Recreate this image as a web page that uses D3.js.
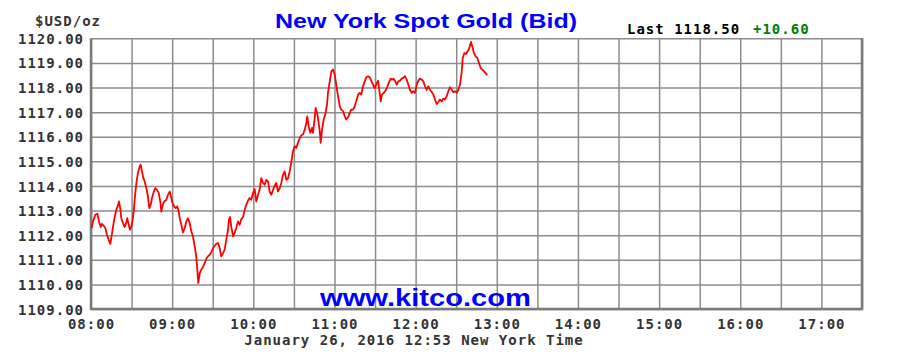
<!DOCTYPE html>
<html>
<head>
<meta charset="utf-8">
<script src="https://cdn.jsdelivr.net/npm/d3@7"></script>
<style>
    body { margin: 0; background: #fff; }
    .mono { font-family: "DejaVu Sans Mono", monospace; font-weight: bold; font-size: 14px; letter-spacing: 1px; }
    .banner { font-family: "Liberation Sans", Arial, sans-serif; font-weight: bold; fill: #0000ff; }
</style>
</head>
<body>
<div id="chart-area"></div>
<script>
var minutes = [
    0.5, 1.5, 3.2, 4.7, 5.9, 7.2, 8.1, 9.4, 10.6, 11.8, 13.1, 14.3, 15.0, 16.3, 17.5, 18.7, 20.0, 20.7, 21.7, 22.4,
    23.7, 24.9, 26.1, 26.8, 27.9, 28.8, 29.8, 30.8, 31.6, 32.3, 33.0, 33.8, 34.7, 36.0, 36.7, 37.7, 38.7, 39.7, 40.9, 42.1,
    43.1, 44.1, 45.1, 46.4, 47.5, 48.8, 50.0, 51.2, 52.0, 53.0, 54.2, 55.7, 56.9, 58.2, 58.9, 59.9, 61.4, 62.6, 63.8, 64.8,
    65.8, 66.8, 68.0, 69.3, 70.5, 71.7, 73.0, 74.2, 75.4, 76.7, 77.8, 78.6, 79.3, 80.4, 81.5, 82.8, 84.1, 85.2, 86.5, 87.8,
    88.9, 90.2, 91.5, 92.6, 93.9, 95.1, 96.3, 97.6, 98.8, 100.0, 101.3, 102.0, 102.8, 103.7, 105.0, 106.2, 107.4, 108.7, 109.9, 111.1,
    112.4, 113.6, 114.8, 116.1, 117.3, 118.5, 119.8, 121.0, 122.2, 123.5, 124.7, 125.9, 127.2, 128.4, 129.6, 130.9, 132.1, 133.3, 134.6, 135.8,
    137.0, 138.2, 139.5, 140.7, 141.9, 143.2, 144.4, 145.6, 146.9, 148.1, 149.3, 150.6, 151.8, 153.0, 154.3, 155.5, 156.7, 158.0, 159.2, 159.9,
    160.9, 162.1, 163.4, 164.1, 165.4, 166.1, 167.1, 167.8, 169.1, 169.8, 170.8, 172.0, 173.2, 174.5, 175.2, 176.5, 177.7, 178.9, 180.2, 181.3,
    182.6, 183.9, 185.0, 186.3, 187.6, 188.7, 190.0, 191.3, 192.4, 193.7, 195.0, 196.1, 197.4, 198.6, 199.8, 201.1, 202.4, 203.5, 204.8, 206.0,
    207.2, 208.5, 209.7, 210.9, 212.2, 213.4, 214.2, 215.1, 216.4, 217.6, 218.8, 220.1, 221.6, 222.3, 223.5, 224.7, 226.0, 227.2, 228.4, 229.7,
    230.9, 232.1, 233.4, 234.6, 235.8, 237.1, 238.3, 239.5, 240.8, 242.0, 243.2, 244.5, 245.7, 246.9, 248.2, 249.4, 250.6, 251.9, 253.1, 254.3,
    255.6, 256.8, 258.0, 259.3, 260.5, 261.7, 263.0, 264.2, 265.4, 266.7, 267.9, 269.1, 270.4, 271.6, 272.8, 274.1, 274.8, 276.0, 277.2, 278.5,
    279.7, 280.9, 281.9, 283.1, 284.4, 285.6, 286.8, 288.1, 289.3, 290.5, 291.8, 293.0
];

// Bid price in $USD/oz...
var prices = [
    1112.29, 1112.56, 1112.83, 1112.87, 1112.56, 1112.33, 1112.46, 1112.38, 1112.29, 1112.02, 1111.81, 1111.65, 1111.88, 1112.35, 1112.74, 1113.03, 1113.23, 1113.37, 1113.06, 1112.69,
    1112.49, 1112.33, 1112.52, 1112.69, 1112.42, 1112.22, 1112.35, 1112.63, 1112.96, 1113.44, 1113.84, 1114.22, 1114.52, 1114.79, 1114.86, 1114.59, 1114.32, 1114.18, 1113.91, 1113.57,
    1113.10, 1113.23, 1113.51, 1113.77, 1113.91, 1113.84, 1113.73, 1113.37, 1112.96, 1113.23, 1113.37, 1113.44, 1113.64, 1113.77, 1113.64, 1113.37, 1113.17, 1113.10, 1113.17, 1112.96,
    1112.63, 1112.42, 1112.11, 1112.29, 1112.56, 1112.69, 1112.49, 1112.15, 1111.95, 1111.54, 1111.14, 1110.60, 1110.06, 1110.46, 1110.60, 1110.71, 1110.87, 1111.03, 1111.14, 1111.21,
    1111.30, 1111.48, 1111.57, 1111.65, 1111.68, 1111.48, 1111.14, 1111.27, 1111.41, 1111.81, 1112.22, 1112.63, 1112.74, 1112.35, 1111.95, 1112.09, 1112.29, 1112.56, 1112.42, 1112.65,
    1112.74, 1113.03, 1113.23, 1113.41, 1113.51, 1113.44, 1113.71, 1113.87, 1113.37, 1113.64, 1113.87, 1114.32, 1114.12, 1114.05, 1114.25, 1114.18, 1113.77, 1113.64, 1113.84, 1114.01,
    1114.12, 1113.77, 1113.91, 1114.12, 1114.45, 1114.59, 1114.25, 1114.30, 1114.59, 1114.97, 1115.40, 1115.62, 1115.55, 1115.75, 1115.95, 1116.06, 1116.09, 1116.29, 1116.56, 1116.83,
    1116.43, 1116.16, 1116.36, 1116.16, 1116.77, 1117.17, 1116.97, 1116.77, 1116.23, 1115.75, 1116.29, 1116.70, 1116.90, 1117.31, 1117.78, 1118.25, 1118.66, 1118.73, 1118.52, 1118.12,
    1117.65, 1117.24, 1117.10, 1117.04, 1116.83, 1116.70, 1116.79, 1116.97, 1117.10, 1117.10, 1117.24, 1117.44, 1117.71, 1117.78, 1117.71, 1118.05, 1118.25, 1118.42, 1118.46, 1118.42,
    1118.28, 1118.12, 1117.98, 1118.12, 1118.28, 1117.78, 1117.44, 1117.71, 1117.78, 1117.87, 1117.98, 1118.19, 1118.36, 1118.32, 1118.36, 1118.28, 1118.12, 1118.25, 1118.28, 1118.36,
    1118.39, 1118.46, 1118.32, 1118.12, 1117.91, 1117.78, 1117.85, 1117.78, 1118.12, 1118.28, 1118.36, 1118.32, 1118.25, 1118.05, 1117.91, 1118.05, 1117.91, 1117.82, 1117.71, 1117.51,
    1117.33, 1117.41, 1117.51, 1117.44, 1117.55, 1117.51, 1117.65, 1117.85, 1118.01, 1117.91, 1117.81, 1117.85, 1117.78, 1117.91, 1118.12, 1118.66, 1119.20, 1119.40, 1119.36, 1119.47,
    1119.61, 1119.85, 1119.68, 1119.40, 1119.27, 1119.20, 1119.00, 1118.79, 1118.73, 1118.66, 1118.59, 1118.50
];

var yTicks = [1109, 1110, 1111, 1112, 1113, 1114, 1115, 1116, 1117, 1118, 1119, 1120];
var hourLabels = ["08:00", "09:00", "10:00", "11:00", "12:00", "13:00", "14:00", "15:00", "16:00", "17:00"];

var titleText = "New York Spot Gold (Bid)";
var unitText = "$USD/oz";
var lastText = "Last 1118.50";
var changeText = "+10.60";
var stampText = "January 26, 2016 12:53 New York Time";
var siteText = "www.kitco.com";

var width = 900, height = 356;
var margin = {left: 91, right: 38, top: 38.3, bottom: 47};

var svg = d3.select("#chart-area").append("svg")
    .attr("width", width)
    .attr("height", height);

var parseHM = d3.timeParse("%H:%M");
var start = parseHM("08:00");
var end = parseHM("17:30");
function toDate(m) { return new Date(start.getTime() + m * 60000); }

var x = d3.scaleTime()
    .domain([start, end])
    .range([margin.left, width - margin.right]);

var y = d3.scaleLinear()
    .domain([1109, 1120])
    .range([height - margin.bottom, margin.top]);

var gridColor = "#8c8c8c";

// vertical grid every half hour...
var xGrid = svg.append("g")
    .attr("transform", "translate(0," + y(1109) + ")")
    .call(d3.axisBottom(x)
        .ticks(d3.timeMinute.every(30))
        .tickSize(-(y(1109) - y(1120)))
        .tickFormat(""));
xGrid.select(".domain").remove();
xGrid.selectAll("line").attr("stroke", gridColor).attr("stroke-width", 1.5);

// horizontal grid + price labels...
var yAxis = svg.append("g")
    .attr("transform", "translate(" + x(start) + ",0)")
    .call(d3.axisLeft(y)
        .tickValues(yTicks)
        .tickSize(-(x(end) - x(start)))
        .tickPadding(7)
        .tickFormat(d3.format(".2f")));
yAxis.select(".domain").remove();
yAxis.selectAll("line").attr("stroke", gridColor).attr("stroke-width", 1.5);
yAxis.selectAll("text")
    .attr("class", "mono")
    .attr("fill", "#333")
    .attr("dy", "0.36em");

// hour labels under the plot...
var xAxis = svg.append("g")
    .attr("transform", "translate(0," + y(1109) + ")")
    .call(d3.axisBottom(x)
        .tickValues(hourLabels.map(parseHM))
        .tickSize(0)
        .tickPadding(10)
        .tickFormat(d3.timeFormat("%H:%M")));
xAxis.select(".domain").remove();
xAxis.selectAll("text")
    .attr("class", "mono")
    .attr("fill", "#333")
    .attr("dy", "0.71em");

// frame: the left, bottom and right edges are heavier...
svg.append("line")
    .attr("x1", x(start)).attr("x2", x(start))
    .attr("y1", y(1120)).attr("y2", y(1109) + 1)
    .attr("stroke", "#7a7a7a").attr("stroke-width", 2.5);
svg.append("line")
    .attr("x1", x(end)).attr("x2", x(end))
    .attr("y1", y(1120)).attr("y2", y(1109) + 1)
    .attr("stroke", "#7a7a7a").attr("stroke-width", 2.5);
svg.append("line")
    .attr("x1", x(start)).attr("x2", x(end) + 1)
    .attr("y1", y(1109)).attr("y2", y(1109))
    .attr("stroke", "#7a7a7a").attr("stroke-width", 2.5);

// watermark sits on the grid, under the line...
svg.append("text")
    .attr("class", "banner")
    .attr("x", 320)
    .attr("y", 306)
    .attr("font-size", 24)
    .attr("textLength", 211)
    .attr("lengthAdjust", "spacingAndGlyphs")
    .text(siteText);

var line = d3.line()
    .x(function (d, i) { return x(toDate(minutes[i])); })
    .y(function (d) { return y(d); });

svg.append("path")
    .datum(prices)
    .attr("fill", "none")
    .attr("stroke", "#ff0000")
    .attr("stroke-width", 1.8)
    .attr("stroke-linejoin", "round")
    .attr("d", line);

// title and header texts...
svg.append("text")
    .attr("class", "banner")
    .attr("x", 275)
    .attr("y", 27.5)
    .attr("font-size", 21)
    .attr("textLength", 302)
    .attr("lengthAdjust", "spacingAndGlyphs")
    .text(titleText);

svg.append("text")
    .attr("class", "mono")
    .attr("x", 35)
    .attr("y", 25.5)
    .attr("fill", "#333")
    .text(unitText);

svg.append("text")
    .attr("class", "mono")
    .attr("x", 627)
    .attr("y", 34)
    .attr("fill", "#000")
    .text(lastText);

svg.append("text")
    .attr("class", "mono")
    .attr("x", 753)
    .attr("y", 34)
    .attr("fill", "#008000")
    .text(changeText);

svg.append("text")
    .attr("class", "mono")
    .attr("x", 414)
    .attr("y", 345)
    .attr("text-anchor", "middle")
    .attr("fill", "#333")
    .text(stampText);
</script>
</body>
</html>
